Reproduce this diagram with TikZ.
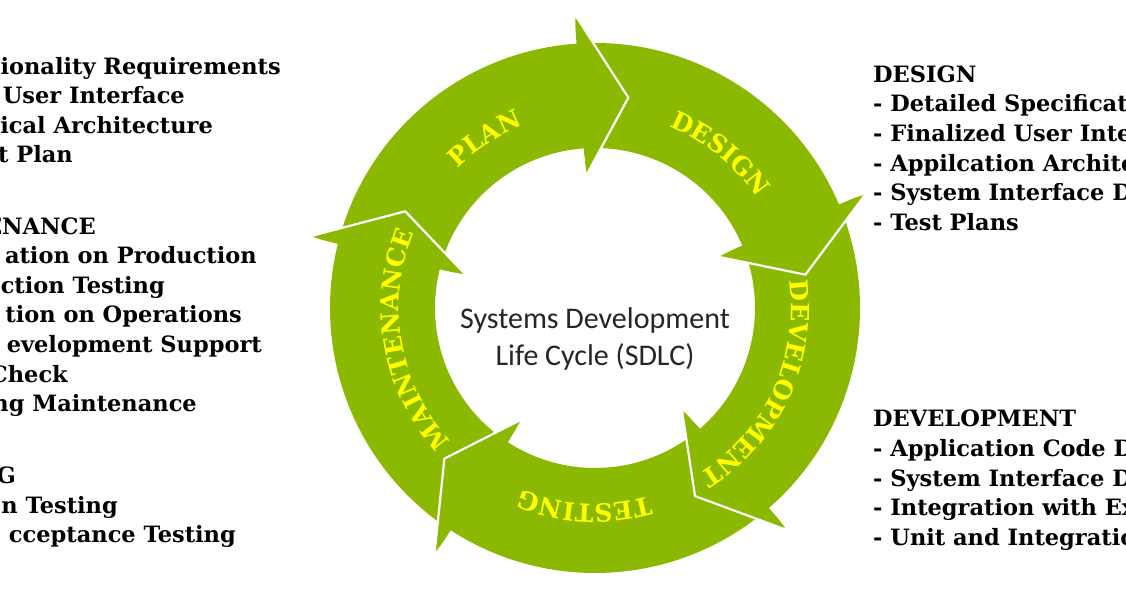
\documentclass[tikz,border=0pt]{standalone}
\usepackage{fontspec}
\setmainfont{DejaVu Serif}
\newfontfamily\cfont{Carlito}
\usetikzlibrary{decorations.text}
\definecolor{ringgreen}{HTML}{8BB800}
\definecolor{lbl}{HTML}{FFFF00}
\begin{document}
\begin{tikzpicture}[x=1pt,y=1pt,
  body/.style={fill=ringgreen},
  headside/.style={draw=white,line width=2.2pt,line join=round},
  side/.style={font=\bfseries\fontsize{22.5}{24}\selectfont,inner sep=0pt},
  lt/.style={side,anchor=mid east},
  rt/.style={side,anchor=mid west},
  ctr/.style={font=\cfont\fontsize{30}{32}\selectfont,text=black!85,inner sep=0pt}]
\useasboundingbox (0,0) rectangle (1126,591);
\fill[white] (0,0) rectangle (1126,591);
\begin{scope}[shift={(595,283)}]
  % bodies
  \foreach \a/\b in {166/93, 94/22, 23/-50, -49/-124, -123/-195}{
    \fill[body] (\a:265) arc[start angle=\a,end angle=\b,radius=265]
      -- (\b:160) arc[start angle=\b,end angle=\a,radius=160] -- cycle;
  }
  % heads
  \foreach \b/\t in {94/81, 23/9, -49/-62, -123/-135, 166/153}{
    \fill[body] (\b:295) -- (\t:213) -- (\b:132) -- cycle;
    \draw[headside] (\b+0.6:265.5) -- (\b:295) -- (\t:213) -- (\b:132) -- (\b+0.6:159.5);
  }
  % labels
  \tikzset{lab/.style={decorate,decoration={text along path,text align=center,
     text={|\color{lbl}\bfseries\fontsize{25}{25}\selectfont|#1}}}}
  \path[lab=PLAN] (152:196) arc[start angle=152,end angle=94,radius=196];
  \path[lab=DESIGN] (82:196) arc[start angle=82,end angle=20,radius=196];
  \path[lab=DEVELOPMENT] (14:196) arc[start angle=14,end angle=-64,radius=196];
  \path[lab=TESTING] (-64:196) arc[start angle=-64,end angle=-122,radius=196];
  \path[lab=MAINTENANCE] (228:196) arc[start angle=228,end angle=152,radius=196];
  \node[ctr] (t1) at (0,-13) {Systems Development};
  \node[ctr] (t2) at (0,-49) {Life Cycle (SDLC)};
\end{scope}
% left texts
\node[lt] (l1) at (281,591-72) {ionality Requirements};
\node[lt] (l2) at (185,591-101) {User Interface};
\node[lt] (l3) at (213,591-131) {ical Architecture};
\node[lt] (l4) at (73,591-160) {t Plan};
\node[lt] (l5) at (96,591-232) {ENANCE};
\node[lt] (l6) at (257,591-261) {ation on Production};
\node[lt] (l7) at (165,591-291) {ction Testing};
\node[lt] (l8) at (242,591-320) {tion on Operations};
\node[lt] (l9) at (262,591-350) {evelopment Support};
\node[lt] (l10) at (68,591-380) {Check};
\node[lt] (l11) at (197,591-409) {ng Maintenance};
\node[lt] (l12) at (16,591-481) {G};
\node[lt] (l13) at (118,591-511) {n Testing};
\node[lt] (l14) at (236,591-540) {cceptance Testing};
% right texts
\node[rt] (r1) at (873,591-80) {DESIGN};
\node[rt] (r2) at (873,591-109) {- Detailed Specifications};
\node[rt] (r3) at (873,591-139) {- Finalized User Interface};
\node[rt] (r4) at (873,591-169) {- Appilcation Architecture};
\node[rt] (r5) at (873,591-198) {- System Interface Design};
\node[rt] (r6) at (873,591-228) {- Test Plans};
\node[rt] (r7) at (873,591-424) {DEVELOPMENT};
\node[rt] (r8) at (873,591-454) {- Application Code Development};
\node[rt] (r9) at (873,591-484) {- System Interface Development};
\node[rt] (r10) at (873,591-513) {- Integration with External Systems};
\node[rt] (r11) at (873,591-543) {- Unit and Integration Testing};
\end{tikzpicture}
\end{document}
